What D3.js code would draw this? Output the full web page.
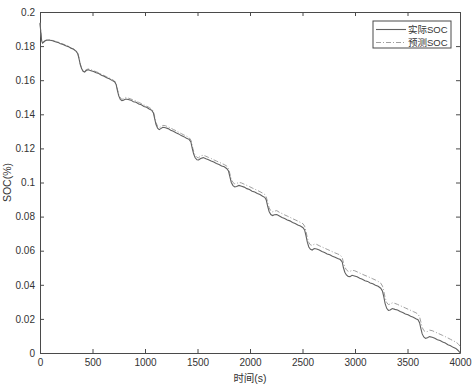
<!doctype html>
<html lang="zh">
<head>
<meta charset="utf-8">
<title>SOC</title>
<script src="https://cdn.jsdelivr.net/npm/d3@7"></script>
<style>
    body { margin: 0; background: #fff; }
    svg text { font-family: "Liberation Sans", Arial, "Noto Sans CJK SC", sans-serif; fill: #333; }
    .axis path, .axis line { stroke: #4a4a4a; }
    .axis text { font-size: 10px; }
    .actual { fill: none; stroke: #616161; stroke-width: 1.1px; }
    .predict { fill: none; stroke: #a0a0a0; stroke-width: 1px; stroke-dasharray: 5,2,1,2; }
</style>
</head>
<body>
<svg width="474" height="387"></svg>
<script>
// time (s)
var times = [
    0,8,16,24,36,50,70,95,120,145,170,195,220,245,270,295,320,345,360,
    372,384,396,410,425,440,460,485,510,535,560,585,610,635,660,685,710,725,
    737,750,765,780,795,815,840,865,890,915,940,965,990,1015,1040,1065,1080,
    1092,1105,1120,1135,1150,1170,1195,1220,1245,1270,1295,1320,1345,1370,1395,1420,1437,
    1450,1463,1478,1495,1510,1530,1555,1580,1605,1630,1655,1680,1705,1730,1755,1780,1795,
    1808,1822,1838,1855,1872,1895,1920,1945,1970,1995,2020,2045,2070,2095,2120,2140,2155,
    2168,2182,2198,2215,2232,2255,2280,2305,2330,2355,2380,2405,2430,2455,2480,2505,2520,
    2533,2546,2560,2576,2592,2612,2635,2660,2685,2710,2735,2760,2785,2810,2835,2860,2878,
    2890,2903,2918,2935,2952,2972,2995,3020,3045,3070,3095,3120,3145,3170,3195,3220,3245,3262,
    3274,3287,3302,3318,3335,3355,3380,3405,3430,3455,3480,3505,3530,3555,3580,3600,3615,
    3627,3640,3655,3672,3690,3710,3735,3760,3785,3810,3835,3860,3885,3910,3935,3960,3980,3990,4000
];

// 实际SOC
var actualSoc = [
    0.1935,0.1880,0.1830,0.1818,0.1824,0.1831,0.1836,0.1834,0.1831,0.1825,0.1822,0.1814,0.1810,0.1802,0.1797,0.1787,0.1781,0.1769,0.1755,
    0.1725,0.1690,0.1668,0.1652,0.1648,0.1657,0.1661,0.1656,0.1651,0.1644,0.1639,0.1629,0.1623,0.1614,0.1609,0.1599,0.1591,0.1575,
    0.1540,0.1508,0.1488,0.1480,0.1483,0.1490,0.1487,0.1483,0.1474,0.1471,0.1461,0.1456,0.1446,0.1441,0.1431,0.1423,0.1408,
    0.1375,0.1340,0.1318,0.1310,0.1316,0.1324,0.1321,0.1316,0.1307,0.1301,0.1292,0.1285,0.1275,0.1269,0.1260,0.1253,0.1238,
    0.1200,0.1168,0.1145,0.1133,0.1132,0.1141,0.1146,0.1139,0.1134,0.1126,0.1120,0.1111,0.1106,0.1097,0.1092,0.1081,0.1068,
    0.1035,0.1000,0.0982,0.0974,0.0977,0.0983,0.0978,0.0973,0.0964,0.0959,0.0949,0.0944,0.0935,0.0929,0.0919,0.0913,0.0897,
    0.0862,0.0830,0.0812,0.0806,0.0811,0.0812,0.0804,0.0795,0.0789,0.0780,0.0775,0.0765,0.0760,0.0751,0.0745,0.0735,0.0722,
    0.0688,0.0650,0.0622,0.0608,0.0604,0.0613,0.0610,0.0604,0.0595,0.0590,0.0581,0.0576,0.0567,0.0562,0.0554,0.0548,0.0534,
    0.0500,0.0474,0.0458,0.0449,0.0448,0.0456,0.0452,0.0447,0.0438,0.0433,0.0424,0.0420,0.0411,0.0406,0.0397,0.0391,0.0380,0.0362,
    0.0330,0.0290,0.0262,0.0250,0.0252,0.0261,0.0256,0.0252,0.0243,0.0238,0.0229,0.0224,0.0215,0.0210,0.0201,0.0195,0.0178,
    0.0145,0.0112,0.0094,0.0086,0.0089,0.0096,0.0092,0.0087,0.0078,0.0073,0.0064,0.0059,0.0049,0.0043,0.0033,0.0027,0.0016,0.0010,0.0002
];

// 预测SOC
var predictSoc = [
    0.1937,0.1883,0.1833,0.1821,0.1826,0.1833,0.1838,0.1837,0.1833,0.1828,0.1824,0.1817,0.1812,0.1805,0.1799,0.1790,0.1783,0.1772,0.1758,
    0.1730,0.1695,0.1673,0.1658,0.1653,0.1662,0.1666,0.1662,0.1655,0.1650,0.1643,0.1635,0.1627,0.1620,0.1613,0.1605,0.1595,0.1581,
    0.1548,0.1516,0.1497,0.1488,0.1490,0.1499,0.1495,0.1490,0.1483,0.1478,0.1470,0.1463,0.1455,0.1448,0.1440,0.1430,0.1416,
    0.1386,0.1351,0.1329,0.1322,0.1326,0.1335,0.1333,0.1326,0.1319,0.1311,0.1304,0.1295,0.1287,0.1279,0.1272,0.1263,0.1249,
    0.1214,0.1182,0.1160,0.1147,0.1145,0.1156,0.1160,0.1154,0.1147,0.1141,0.1133,0.1126,0.1119,0.1112,0.1105,0.1096,0.1082,
    0.1053,0.1018,0.1000,0.0992,0.0994,0.1001,0.0997,0.0990,0.0983,0.0976,0.0968,0.0961,0.0954,0.0946,0.0938,0.0930,0.0915,
    0.0884,0.0852,0.0834,0.0828,0.0832,0.0835,0.0825,0.0818,0.0810,0.0803,0.0796,0.0788,0.0781,0.0774,0.0766,0.0758,0.0744,
    0.0714,0.0676,0.0648,0.0634,0.0631,0.0638,0.0637,0.0629,0.0622,0.0615,0.0608,0.0601,0.0594,0.0587,0.0581,0.0574,0.0560,
    0.0530,0.0504,0.0488,0.0479,0.0479,0.0485,0.0483,0.0476,0.0469,0.0462,0.0455,0.0449,0.0442,0.0435,0.0428,0.0420,0.0410,0.0392,
    0.0364,0.0324,0.0296,0.0284,0.0287,0.0294,0.0291,0.0285,0.0278,0.0271,0.0264,0.0257,0.0250,0.0243,0.0236,0.0228,0.0212,
    0.0183,0.0150,0.0132,0.0124,0.0126,0.0134,0.0131,0.0124,0.0117,0.0110,0.0103,0.0096,0.0088,0.0080,0.0072,0.0064,0.0055,0.0048,0.0040
];

var xTicks = [0, 500, 1000, 1500, 2000, 2500, 3000, 3500, 4000];
var yTicks = [0, 0.02, 0.04, 0.06, 0.08, 0.1, 0.12, 0.14, 0.16, 0.18, 0.2];
var seriesNames = ["实际SOC", "预测SOC"];

var margin = {left: 40, top: 12, right: 14, bottom: 34};
var svg = d3.select("svg");
var width = 474 - margin.left - margin.right;
var height = 387 - margin.top - margin.bottom;

var g = svg.append("g")
    .attr("transform", "translate(" + margin.left + "," + margin.top + ")");

var x = d3.scaleLinear().domain([0, 4000]).range([0, width]);
var y = d3.scaleLinear().domain([0, 0.2]).range([height, 0]);

// bottom / left with labels, top / right ticks only (box)
g.append("g")
    .attr("class", "axis")
    .attr("transform", "translate(0," + height + ")")
    .call(d3.axisBottom(x).tickValues(xTicks).tickSizeInner(-4).tickSizeOuter(0).tickPadding(6)
        .tickFormat(function(d) { return String(d); }));

g.append("g")
    .attr("class", "axis")
    .call(d3.axisLeft(y).tickValues(yTicks).tickSizeInner(-4).tickSizeOuter(0).tickPadding(5)
        .tickFormat(function(d) { return String(+d.toFixed(2)); }));

g.append("g")
    .attr("class", "axis")
    .call(d3.axisTop(x).tickValues(xTicks).tickSizeInner(-4).tickSizeOuter(0).tickFormat(""));

g.append("g")
    .attr("class", "axis")
    .attr("transform", "translate(" + width + ",0)")
    .call(d3.axisRight(y).tickValues(yTicks).tickSizeInner(-4).tickSizeOuter(0).tickFormat(""));

var actualData = times.map(function(t, i) { return {t: t, v: actualSoc[i]}; });
var predictData = times.map(function(t, i) { return {t: t, v: predictSoc[i]}; });

var line = d3.line()
    .x(function(d) { return x(d.t); })
    .y(function(d) { return y(d.v); });

g.append("path").attr("class", "predict").attr("d", line(predictData));
g.append("path").attr("class", "actual").attr("d", line(actualData));

// axis titles
svg.append("text")
    .attr("x", margin.left + width / 2)
    .attr("y", 382)
    .attr("text-anchor", "middle")
    .style("font-size", "10.5px")
    .text("时间(s)");

svg.append("text")
    .attr("transform", "translate(11," + (margin.top + height / 2) + ") rotate(-90)")
    .attr("text-anchor", "middle")
    .style("font-size", "10.5px")
    .text("SOC(%)");

// legend
var legend = g.append("g")
    .attr("transform", "translate(" + (width - 87) + ",9)");

legend.append("rect")
    .attr("width", 78)
    .attr("height", 27)
    .attr("fill", "#fff")
    .attr("stroke", "#4a4a4a");

var item = legend.selectAll(".item")
    .data(seriesNames)
    .enter().append("g")
    .attr("class", "item")
    .attr("transform", function(d, i) { return "translate(0," + (8.5 + i * 13) + ")"; });

item.append("line")
    .attr("x1", 3)
    .attr("x2", 33)
    .attr("class", function(d, i) { return i === 0 ? "actual" : "predict"; });

item.append("text")
    .attr("x", 35)
    .attr("dy", "0.35em")
    .style("font-size", "9.5px")
    .text(function(d) { return d; });
</script>
</body>
</html>
